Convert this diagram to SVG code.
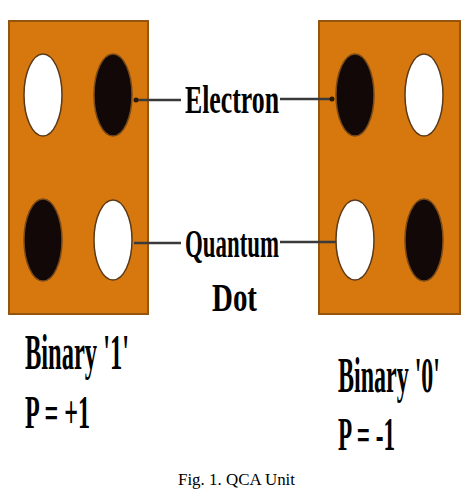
<svg xmlns="http://www.w3.org/2000/svg" width="474" height="489" viewBox="0 0 474 489">
<style>
.cell{fill:#d7780f;stroke:#94560f;stroke-width:2}
.e{fill:#120808;stroke:#7a4a18;stroke-width:1.5}
.h{fill:#ffffff;stroke:#5a3a18;stroke-width:1.5}
.lbl{font-family:"Liberation Serif",serif;font-weight:bold;fill:#000}
.ln{stroke:#3a3a3a;stroke-width:2.5;fill:none}
.cap{font-family:"Liberation Serif",serif;font-size:17px;fill:#000}
</style>
<rect width="474" height="489" fill="#fff"/>
<g id="cell1">
<rect class="cell" x="9" y="21" width="139" height="293"/>
<ellipse class="h" cx="43" cy="95" rx="19" ry="41"/>
<ellipse class="e" cx="113" cy="95" rx="19" ry="41"/>
<ellipse class="e" cx="43" cy="240" rx="19" ry="41"/>
<ellipse class="h" cx="113" cy="240" rx="19" ry="40"/>
</g>
<g id="cell0">
<rect class="cell" x="319" y="21" width="141" height="293"/>
<ellipse class="e" cx="355" cy="95" rx="19" ry="41"/>
<ellipse class="h" cx="424" cy="95" rx="19" ry="41"/>
<ellipse class="h" cx="355" cy="240" rx="19" ry="40"/>
<ellipse class="e" cx="424" cy="240" rx="19" ry="41"/>
</g>
<g id="connectors">
<line class="ln" x1="134" y1="100" x2="181" y2="100"/>
<line class="ln" x1="280" y1="99" x2="334" y2="99"/>
<line class="ln" x1="134" y1="243" x2="181" y2="243"/>
<line class="ln" x1="280" y1="242" x2="336" y2="242"/>
<circle cx="136" cy="100" r="2.5" fill="#2a1a0a"/>
<circle cx="332" cy="99" r="2.5" fill="#2a1a0a"/>
</g>
<g id="labels">
<text class="lbl" x="185" y="113" font-size="41" textLength="94" lengthAdjust="spacingAndGlyphs">Electron</text>
<text class="lbl" x="185" y="257" font-size="41" textLength="94" lengthAdjust="spacingAndGlyphs">Quantum</text>
<text class="lbl" x="212" y="311" font-size="41" textLength="45" lengthAdjust="spacingAndGlyphs">Dot</text>
<text class="lbl" x="25" y="369" font-size="51" textLength="104" lengthAdjust="spacingAndGlyphs">Binary '1'</text>
<text class="lbl" x="25" y="428" font-size="46" textLength="65" lengthAdjust="spacingAndGlyphs">P = +1</text>
<text class="lbl" x="338" y="392" font-size="51" textLength="102" lengthAdjust="spacingAndGlyphs">Binary '0'</text>
<text class="lbl" x="338" y="450" font-size="46" textLength="57" lengthAdjust="spacingAndGlyphs">P = -1</text>
<text class="cap" x="178" y="485" textLength="117" lengthAdjust="spacingAndGlyphs">Fig. 1. QCA Unit</text>
</g>
</svg>
